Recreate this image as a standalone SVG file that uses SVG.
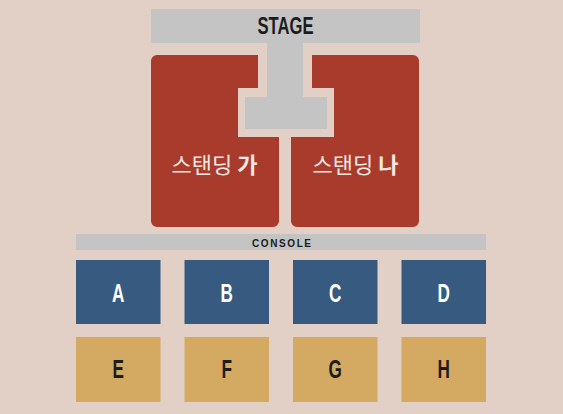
<svg xmlns="http://www.w3.org/2000/svg" width="563" height="414" viewBox="0 0 563 414">
<style>
.red{fill:#a93b2d}
.gray{fill:#c4c4c4}
.blue{fill:#365a80}
.gold{fill:#d4aa62}
.lbl{font-family:"Liberation Sans",Arial,sans-serif;font-weight:bold;text-anchor:middle}
.kr{font-family:"Noto Sans CJK KR",sans-serif;font-size:22px;fill:#f4e8e2;text-anchor:middle}
.w{fill:#ffffff}
.k{fill:#1c1c1c}
</style>
<rect width="563" height="414" fill="#e2d0c6"/>
<g id="stage">
<path class="gray" d="M151,9 H420 V43 H303 V97 H327 V129 H245 V97 H267 V43 H151 Z"/>
<text x="285.5" y="34" class="lbl k" font-size="24" textLength="56" lengthAdjust="spacingAndGlyphs">STAGE</text>
</g>
<g id="standing-ga">
<path class="red" d="M157,55 H258 V88 H238 V137 H279 V221 A6,6 0 0 1 273,227 H157 A6,6 0 0 1 151,221 V61 A6,6 0 0 1 157,55 Z"/>
<text x="214.5" y="173" class="kr">스탠딩 <tspan font-weight="bold">가</tspan></text>
</g>
<g id="standing-na">
<path class="red" d="M312,55 H413 A6,6 0 0 1 419,61 V221 A6,6 0 0 1 413,227 H297 A6,6 0 0 1 291,221 V137 H334 V88 H312 Z"/>
<text x="355.5" y="173" class="kr">스탠딩 <tspan font-weight="bold">나</tspan></text>
</g>
<g id="console">
<rect class="gray" x="76" y="234" width="410" height="16"/>
<text x="252" y="247" class="k" font-family="Liberation Sans, Arial, sans-serif" font-weight="bold" font-size="10" textLength="59" lengthAdjust="spacing">CONSOLE</text>
</g>
<g id="A"><rect class="blue" x="76" y="260" width="84.5" height="64"/><text class="lbl w" font-size="26" transform="translate(118.25,302) scale(0.66,1)">A</text></g>
<g id="B"><rect class="blue" x="184.5" y="260" width="84.5" height="64"/><text class="lbl w" font-size="26" transform="translate(226.75,302) scale(0.66,1)">B</text></g>
<g id="C"><rect class="blue" x="293" y="260" width="84.5" height="64"/><text class="lbl w" font-size="26" transform="translate(335.25,302) scale(0.66,1)">C</text></g>
<g id="D"><rect class="blue" x="401.5" y="260" width="84.5" height="64"/><text class="lbl w" font-size="26" transform="translate(443.75,302) scale(0.66,1)">D</text></g>
<g id="E"><rect class="gold" x="76" y="337" width="84.5" height="65"/><text class="lbl k" font-size="26" transform="translate(118.25,378) scale(0.66,1)">E</text></g>
<g id="F"><rect class="gold" x="184.5" y="337" width="84.5" height="65"/><text class="lbl k" font-size="26" transform="translate(226.75,378) scale(0.66,1)">F</text></g>
<g id="G"><rect class="gold" x="293" y="337" width="84.5" height="65"/><text class="lbl k" font-size="26" transform="translate(335.25,378) scale(0.66,1)">G</text></g>
<g id="H"><rect class="gold" x="401.5" y="337" width="84.5" height="65"/><text class="lbl k" font-size="26" transform="translate(443.75,378) scale(0.66,1)">H</text></g>
<g id="connectors"/>
</svg>
